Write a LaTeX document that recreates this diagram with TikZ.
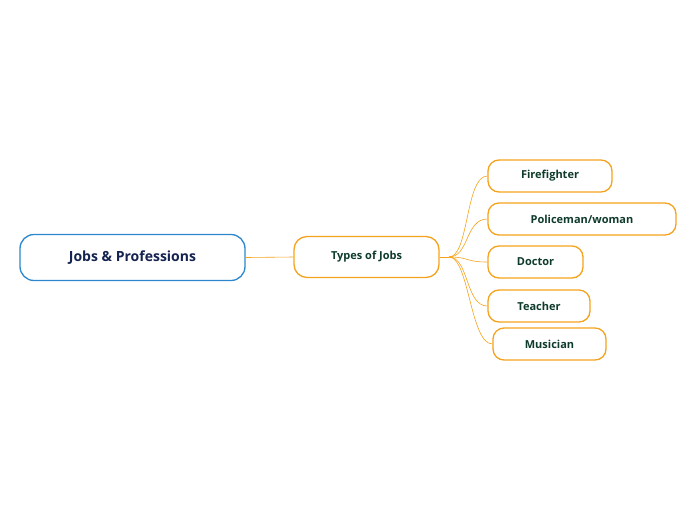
\documentclass[tikz,border=0pt]{standalone}
\usepackage{fontspec}
\setmainfont{Open Sans}
\usetikzlibrary{calc}
\definecolor{rootb}{HTML}{2D87CC}
\definecolor{roott}{HTML}{14234F}
\definecolor{org}{HTML}{F5A31C}
\definecolor{leaft}{HTML}{0E3B2A}
\tikzset{
 rootbox/.style={draw=rootb,line width=1.3pt,rounded corners=14pt,fill=white,text=roott,font=\bfseries\fontsize{14}{16}\selectfont,minimum width=225pt,minimum height=46pt,inner sep=0pt},
 midbox/.style={draw=org,line width=1.3pt,rounded corners=13pt,fill=white,text=leaft,font=\bfseries\fontsize{11}{13}\selectfont,minimum width=145pt,minimum height=41pt,inner sep=0pt},
 leafbox/.style={draw=org,line width=1.3pt,rounded corners=11pt,fill=white,text=leaft,font=\bfseries\fontsize{11}{13}\selectfont,minimum height=32pt,inner sep=0pt},
 conn/.style={draw=org,line width=0.6pt}
}
\begin{document}
\begin{tikzpicture}[x=1pt,y=-1pt]
\useasboundingbox (0,0) rectangle (696,520);
\coordinate (hub) at (449,257);
\foreach \n in {f,p,d,t,m}{}
\node[rootbox] (root) at (132.5,257.5) {Jobs \& Professions};
\node[midbox] (types) at (366.5,257) {Types of Jobs};
\node[leafbox,minimum width=124pt] (f) at (550,176) {Firefighter};
\node[leafbox,minimum width=188pt] (p) at (582,219) {Policeman/woman};
\node[leafbox,minimum width=95pt] (d) at (535.5,262) {Doctor};
\node[leafbox,minimum width=102pt] (t) at (539,306) {Teacher};
\node[leafbox,minimum width=113pt] (m) at (549.5,344) {Musician};
\draw[conn] (root.east) -- (types.west);
\draw[conn] (types.east) -- (hub);
\foreach \n in {f,p,d,t,m}{
 \draw[conn] (hub) .. controls ($(hub)+(20,0)$) and ($(\n.west)+(-22,0)$) .. (\n.west);
}
\end{tikzpicture}
\end{document}
